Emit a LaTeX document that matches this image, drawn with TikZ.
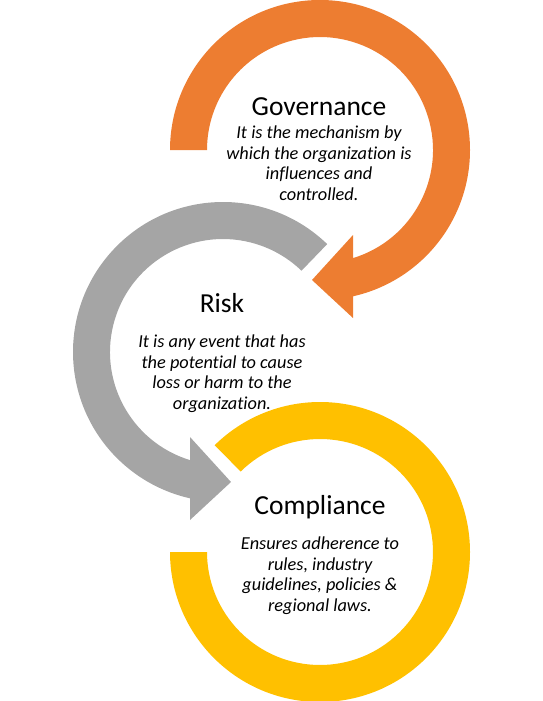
\documentclass[tikz,border=0pt]{standalone}
\usepackage{fontspec}
\setmainfont{Carlito}[Ligatures=NoCommon]
\usepackage{tikz}
\definecolor{govorange}{HTML}{ED7D31}
\definecolor{riskgray}{HTML}{A5A5A5}
\definecolor{compyellow}{HTML}{FFC000}

\begin{document}
\begin{tikzpicture}[x=1pt, y=1pt,
  title/.style={anchor=base, font=\fontsize{27.5}{33}\selectfont},
  desc/.style={anchor=north, align=center, inner sep=0pt, font=\fontsize{18.3}{20.6}\selectfont\itshape}]
  \useasboundingbox (0,0) rectangle (542,-701);
  % governance arrow
  \fill[govorange] (170,-150) arc[start angle=180, end angle=-77.29, radius=150]
    -- (353,-318) -- (312,-280) -- (353,-235) -- (353,-258.1)
    arc[start angle=-73.02, end angle=180, radius=113] -- cycle;
  % risk arrow
  \fill[riskgray] (327.2,-244.1) arc[start angle=46, end angle=257.29, radius=150]
    -- (190,-520) -- (231,-482) -- (190,-437) -- (190,-460.1)
    arc[start angle=253.02, end angle=46, radius=113] -- cycle;
  % compliance ring
  \fill[compyellow] (170,-552) arc[start angle=180, end angle=494.6, radius=150]
    -- ++(134.6:-37) arc[start angle=494.6, end angle=180, radius=113] -- cycle;
  % texts
  \node[title] (gov) at (319,-115) {Governance};
  \node[desc] (govtext) at (319,-125.5) {It is the mechanism by\\which the organization is\\influences and\\controlled.};
  \node[title] (risk) at (222,-312) {Risk};
  \node[desc] (risktext) at (222,-334.5) {It is any event that has\\the potential to cause\\loss or harm to the\\organization.};
  \node[title] (comp) at (320,-514) {Compliance};
  \node[desc] (comptext) at (320,-536.5) {Ensures adherence to\\rules, industry\\guidelines, policies \&\\regional laws.};
\end{tikzpicture}
\end{document}
